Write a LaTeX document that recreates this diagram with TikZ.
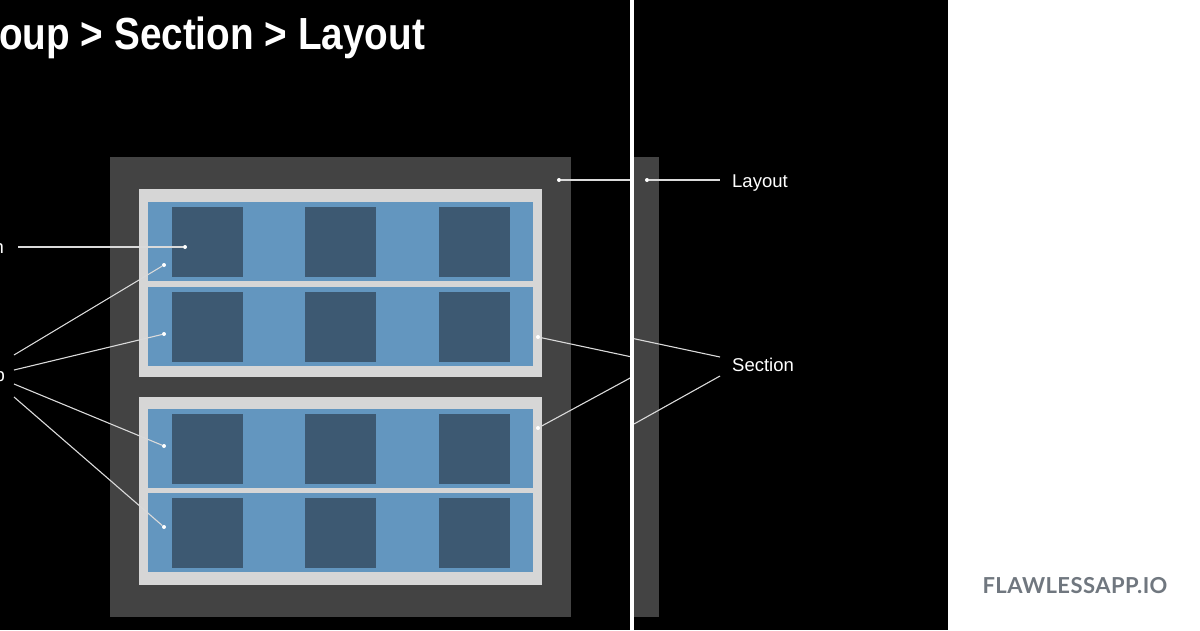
\documentclass[tikz,border=0pt]{standalone}
\usepackage{fontspec}
\setmainfont{Liberation Sans}
\newfontfamily\headfont[FakeStretch=0.86]{Liberation Sans}
\newfontfamily\brandfont[LetterSpace=2]{Lato}
\usetikzlibrary{positioning}
\definecolor{layoutgray}{RGB}{67,67,67}
\definecolor{sectiongray}{RGB}{214,214,214}
\definecolor{groupblue}{RGB}{99,150,191}
\definecolor{itemblue}{RGB}{61,89,114}
\definecolor{pointergray}{RGB}{218,218,218}
\definecolor{brandgray}{RGB}{112,119,127}
\tikzset{
  pindot/.style={circle, fill=white, inner sep=0pt, minimum size=4pt},
  pointer/.style={draw=pointergray, line width=1.1pt},
  labeltext/.style={text=white, inner sep=0pt, font=\fontsize{18.5}{22}\selectfont}
}
\begin{document}
\begin{tikzpicture}[x=1pt,y=-1pt]
  \useasboundingbox (0,0) rectangle (1200,630);
  \fill[white] (0,0) rectangle (1200,630);
  \fill[black] (0,0) rectangle (948,630);
  % layout, sections, groups and items
  \fill[layoutgray] (110,157) rectangle (571,617);
  \foreach \top in {189,397}
    \fill[sectiongray] (139,\top) rectangle (542,\top+188);
  \foreach \top in {202,287,409,493}{
    \fill[groupblue] (148,\top) rectangle (533,\top+79);
    \foreach \left in {172,305,439}
      \fill[itemblue] (\left,\top+5) rectangle (\left+71,\top+75);
  }
  \fill[layoutgray] (634,157) rectangle (659,617);

  \node[anchor=base west, inner sep=0pt, text=white,
        font={\headfont\bfseries\fontsize{45}{54}\selectfont}] (title) at (-1,49) {oup > Section > Layout};

  % labels
  \node[labeltext, anchor=base east] (itemtag) at (4,253) {n};
  \node[labeltext, anchor=base east] (grouptag) at (5,381) {p};
  \node[labeltext, anchor=base west] (layouttag) at (732,187) {Layout};
  \node[labeltext, anchor=base west] (sectiontag) at (732,371) {Section};

  % dots
  \node[pindot] (itemdot) at (185,247) {};
  \foreach \name/\y in {groupa/265,groupb/334,groupc/446,groupd/527}
    \node[pindot] (\name) at (164,\y) {};
  \node[pindot] (layoutdot) at (559,180) {};
  \node[pindot] (sectiona) at (538,337) {};
  \node[pindot] (sectionb) at (538,428) {};
  \node[pindot] (layoutdotr) at (647,180) {};

  % free ends
  \coordinate (itemfrom) at (18,247);
  \coordinate (groupfroma) at (14,355);
  \coordinate (groupfromb) at (14,370);
  \coordinate (groupfromc) at (14,384);
  \coordinate (groupfromd) at (14,397);
  \coordinate (layoutcut) at (632,180);
  \coordinate (sectioncuta) at (632,357);
  \coordinate (sectioncutb) at (632,377);
  \coordinate (sectionstarta) at (634,338.7);
  \coordinate (sectionstartb) at (634,424);
  \coordinate (layoutend) at (720,180);
  \coordinate (sectionenda) at (720,357);
  \coordinate (sectionendb) at (720,376);

  % pointers
  \draw[pointer] (itemfrom) -- (itemdot);
  \foreach \g in {a,b,c,d}
    \draw[pointer] (groupfrom\g) -- (group\g);
  \draw[pointer] (layoutdot) -- (layoutcut);
  \draw[pointer] (sectiona) -- (sectioncuta);
  \draw[pointer] (sectionb) -- (sectioncutb);
  \draw[pointer] (layoutdotr) -- (layoutend);
  \draw[pointer] (sectionstarta) -- (sectionenda);
  \draw[pointer] (sectionstartb) -- (sectionendb);

  \fill[white] (630,0) rectangle (633.5,630);

  \node[anchor=base, inner sep=0pt, text=brandgray,
        font={\brandfont\bfseries\fontsize{22}{26}\selectfont}] (brand) at (1075,593) {FLAWLESSAPP.IO};
\end{tikzpicture}
\end{document}
